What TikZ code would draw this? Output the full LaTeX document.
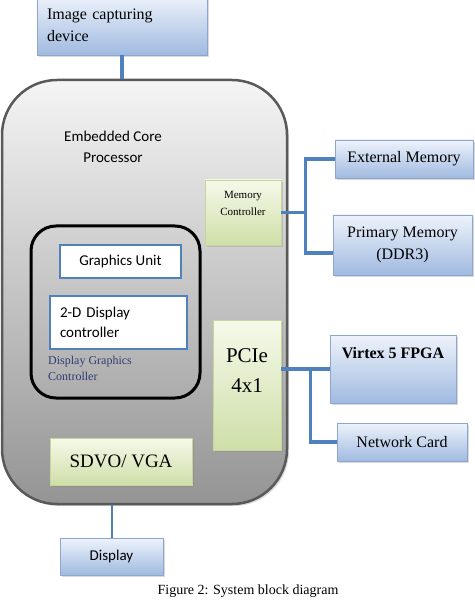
\documentclass[tikz,border=0pt]{standalone}
\usepackage{fontspec}
\setmainfont{Liberation Serif}
\newfontfamily\calibri{Carlito}
\usetikzlibrary{shadows}
\definecolor{linkblue}{RGB}{79,129,189}
\definecolor{boxtop}{RGB}{238,243,251}
\definecolor{boxbot}{RGB}{160,186,224}
\definecolor{boxline}{RGB}{140,166,206}
\definecolor{grtop}{RGB}{246,249,234}
\definecolor{grbot}{RGB}{206,223,168}
\definecolor{grline}{RGB}{196,214,155}
\definecolor{dgcblue}{RGB}{45,62,115}

\begin{document}
\begin{tikzpicture}[x=1pt,y=-1pt,
  shd/.style={drop shadow={shadow xshift=2pt,shadow yshift=-2pt,opacity=.3}},
  bbox/.style={shd,draw=boxline,line width=0.8pt,top color=boxtop,bottom color=boxbot,
               inner sep=0pt,font=\fontsize{16}{22}\selectfont,align=center},
  gbox/.style={shd,draw=grline,line width=0.8pt,top color=grtop,bottom color=grbot,
               inner sep=0pt,align=center},
  wbox/.style={draw=linkblue,line width=2.4pt,fill=white,inner sep=0pt,
               font=\calibri\fontsize{15}{20}\selectfont},
  lay/.style={font=\calibri\fontsize{15}{21}\selectfont,align=center},
  bus/.style={draw=linkblue,line width=3.5pt},
  wire/.style={draw=linkblue,line width=2pt}
]
\useasboundingbox (0,0) rectangle (474,601);

% processor body
\node[shd,draw=black!65,line width=2.5pt,rounded corners=55pt,top color=black!4,bottom color=black!42,
      minimum width=285pt,minimum height=424pt] (core) at (144.5,292) {};
\node[lay] (ecp) at (113,147) {Embedded Core\\Processor};

\node[bbox,minimum width=170pt,minimum height=60pt,align=left,text width=150pt] (img) at (122,25) {Image capturing\\device};

% memory side
\node[gbox,minimum width=76pt,minimum height=65pt] (memc) at (243,212.5) {};
\node[font=\fontsize{11}{17}\selectfont,align=center] (memct) at (243,203.5) {Memory\\Controller};
\node[bbox,minimum width=138pt,minimum height=38pt] (extm) at (404,159) {External Memory};
\node[bbox,minimum width=139pt,minimum height=60pt] (prim) at (402.5,245) {Primary Memory\\(DDR3)};

% display graphics controller
\node[draw=black,line width=3pt,rounded corners=25pt,minimum width=169pt,minimum height=172pt] (dgc) at (115.5,312) {};
\node[wbox,minimum width=121pt,minimum height=33pt] (gfx) at (120.5,261.5) {Graphics Unit};
\node[wbox,minimum width=137pt,minimum height=53pt,align=left,text width=117pt] (disc) at (118.5,322.5) {2-D Display\\controller};
\node[anchor=north west,inner sep=0pt,font=\fontsize{12}{16}\selectfont,text=dgcblue,align=left] (dgcl) at (48,356) {Display Graphics\\Controller};

% pcie side
\node[gbox,minimum width=68pt,minimum height=130pt] (pcie) at (247,385) {};
\node[font=\fontsize{21}{30}\selectfont,align=center] (pciet) at (247,371) {PCIe\\4x1};
\node[bbox,minimum width=126pt,minimum height=68pt,font=\bfseries\fontsize{16}{22}\selectfont,
      text height=19pt,text depth=41pt] (virt) at (393,369) {Virtex 5 FPGA};
\node[bbox,minimum width=130pt,minimum height=38pt] (net) at (402,442) {Network Card};

\node[gbox,minimum width=142pt,minimum height=47pt,font=\fontsize{19}{22}\selectfont] (sdvo) at (121,461.5) {SDVO/ VGA};
\node[bbox,minimum width=103pt,minimum height=37pt,font=\calibri\fontsize{15}{20}\selectfont] (disp) at (111.5,556.5) {Display};

\node[anchor=north,inner sep=0pt,font=\fontsize{14}{16}\selectfont] (cap) at (248,585) {Figure 2: System block diagram};

% links
\draw[bus] (img.south) -- (img.south |- core.north);
\draw[bus] (memc.east) -- ++(24,0) coordinate (mj);
\draw[bus] (extm.west) -| (mj) |- ([yshift=-8pt]prim.west);
\draw[bus] (pcie.east |- virt.west) -- (virt.west);
\coordinate (pj) at ([xshift=-19pt]virt.west);
\draw[bus] (pj) |- (net.west);
\draw[wire] (disp.north |- core.south) -- (disp.north);
\end{tikzpicture}
\end{document}
